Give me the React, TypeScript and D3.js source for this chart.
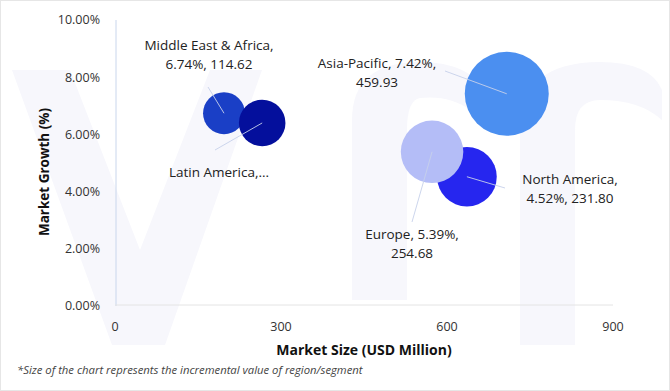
import React from "react";
import * as d3 from "d3";

// bubble data (drawn in this order so overlaps match)
const regions = ["Asia-Pacific", "Middle East & Africa", "Latin America", "North America", "Europe"];
const marketSize = [708, 197, 266, 636, 573];
const marketGrowth = [7.42, 6.74, 6.4, 4.52, 5.39];
const incremental = [459.93, 114.62, 141.2, 231.8, 254.68];
const colors = ["#4b8ff0", "#1a3fc6", "#040f9c", "#2626ef", "#b4bdf7"];
const labelLines = [
  ["Asia-Pacific, 7.42%,", "459.93"],
  ["Middle East & Africa,", "6.74%, 114.62"],
  ["Latin America,..."],
  ["North America,", "4.52%, 231.80"],
  ["Europe, 5.39%,", "254.68"],
];

const xTicks = [0, 300, 600, 900];
const yTicks = [0, 2, 4, 6, 8, 10];

// label layout: text anchor point + where the leader line starts
const labelLayout: Record<string, { x: number; y: number; lx: number; ly: number }> = {
  "Asia-Pacific": { x: 377, y: 68, lx: 445, ly: 71 },
  "Middle East & Africa": { x: 209, y: 50, lx: 208, ly: 87 },
  "Latin America": { x: 219, y: 177, lx: 215, ly: 150 },
  "North America": { x: 570, y: 184, lx: 505, ly: 188 },
  "Europe": { x: 412, y: 239, lx: 412, ly: 222 },
};

const W = 670;
const H = 391;
const font = "'Open Sans', 'Noto Sans', sans-serif";

export default function App() {
  const x = d3.scaleLinear().domain([0, 900]).range([115, 613]);
  const y = d3.scaleLinear().domain([0, 10]).range([306, 20]);
  const r = d3.scaleSqrt().domain([0, 459.93]).range([0, 42]);
  const pct = d3.format(".2f");

  return (
    <svg
      width={W}
      height={H}
      style={{ position: "fixed", left: 0, top: 0, background: "#fff" }}
      fontFamily={font}
    >
      <rect x={0.5} y={0.5} width={W - 1} height={H - 1} fill="#fff" stroke="#e6e6e6" />

      {/* faint watermark */}
      <g fill="#f7f7fc">
        <path d="M12,70 L70,70 L140,250 L210,70 L262,70 L165,345 L112,345 Z" />
        <path d="M352,300 L352,120 Q352,62 420,62 Q470,62 490,95 L470,110 Q450,95 420,98 Q407,100 407,130 L407,300 Z" />
        <path d="M520,345 L520,130 Q520,62 600,62 Q650,62 662,90 L662,120 Q640,100 600,100 Q575,100 575,130 L575,345 Z" />
      </g>

      {/* axes lines */}
      <line x1={x(0) + 1} x2={x(0) + 1} y1={y(10)} y2={y(0)} stroke="#c9d6ec" />
      <line x1={x(0)} x2={x(900)} y1={y(0) - 1} y2={y(0) - 1} stroke="#e4e4e4" />

      {yTicks.map((t) => (
        <text key={t} x={100} y={y(t)} dy="0.35em" textAnchor="end" fontSize={12.5} fill="#333">
          {pct(t)}%
        </text>
      ))}
      {xTicks.map((t) => (
        <text key={t} x={x(t)} y={327} dy="0.35em" textAnchor="middle" fontSize={12.5} fill="#333">
          {t}
        </text>
      ))}

      <text
        transform={`translate(44,172) rotate(-90)`}
        textAnchor="middle"
        dy="0.35em"
        fontSize={13.5}
        fontWeight="bold"
        fill="#111"
      >
        Market Growth (%)
      </text>
      <text x={364} y={350} textAnchor="middle" dy="0.35em" fontSize={14} fontWeight="bold" fill="#111">
        Market Size (USD Million)
      </text>
      <text x={17} y={370} dy="0.35em" fontSize={11.3} fontStyle="italic" fill="#444">
        *Size of the chart represents the incremental value of region/segment
      </text>

      {/* bubbles */}
      {regions.map((reg, i) => (
        <circle
          key={reg}
          cx={x(marketSize[i])}
          cy={y(marketGrowth[i])}
          r={r(incremental[i])}
          fill={colors[i]}
        />
      ))}

      {/* leader lines + labels */}
      {regions.map((reg, i) => {
        const l = labelLayout[reg];
        return (
          <g key={reg}>
            <line
              x1={l.lx}
              y1={l.ly}
              x2={x(marketSize[i])}
              y2={y(marketGrowth[i])}
              stroke="#c6d0ea"
              strokeOpacity={0.9}
              strokeWidth={1}
            />
            {labelLines[i].map((s, j) => (
              <text
                key={j}
                x={l.x}
                y={l.y + j * 19}
                textAnchor="middle"
                fontSize={13.5}
                fill="#222"
              >
                {s}
              </text>
            ))}
          </g>
        );
      })}
    </svg>
  );
}
